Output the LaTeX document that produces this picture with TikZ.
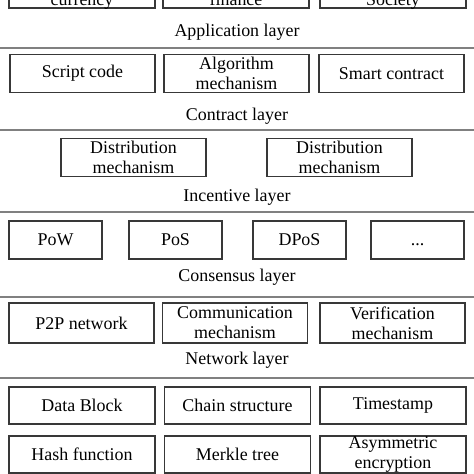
\documentclass[tikz,border=0pt]{standalone}
\usepackage{fontspec}
\setmainfont{Liberation Serif}

\tikzset{
  unit/.style = {
    draw = black!78, line width = 1.2bp,
    minimum width = 145bp, minimum height = 38bp,
    inner sep = 0pt, align = center
  },
  small unit/.style = {unit, minimum width = 93bp},
  layer/.style = {inner sep = 0pt},
  separator/.style = {draw = black!50, line width = 1.8bp}
}

\begin{document}
\begin{tikzpicture}[x = 1bp, y = -1bp,
    font = \fontsize{18}{20}\selectfont]
  \useasboundingbox (0,0) rectangle (474,474);
  \clip (0,0) rectangle (474,474);

  % Application layer
  \node[unit, minimum width = 146bp, minimum height = 39bp] (app-1) at (82,-11.5)  {};
  \node[unit, minimum width = 146bp, minimum height = 39bp] (app-2) at (236,-11.5) {};
  \node[unit, minimum width = 146bp, minimum height = 39bp] (app-3) at (393,-11.5) {};
  \node[anchor = base] (app-1-text) at (82,5.5)  {currency};
  \node[anchor = base] (app-2-text) at (236,5.5) {finance};
  \node[anchor = base] (app-3-text) at (393,5.5) {Society};
  \node[layer] (app) at (237,32) {Application layer};
  \draw[separator] (0,48) -- (474,48);

  % Contract layer
  \node[unit] (con-1) at (82.5,73.5)  {Script code};
  \node[unit] (con-2) at (236.5,73.5) {Algorithm\\mechanism};
  \node[unit] (con-3) at (391.5,73.5) {Smart contract};
  \node[layer] (con) at (237,116) {Contract layer};
  \draw[separator] (0,130) -- (474,130);

  % Incentive layer
  \node[unit] (inc-1) at (133.5,157.5) {Distribution\\mechanism};
  \node[unit] (inc-2) at (339.5,157.5) {Distribution\\mechanism};
  \node[layer] (inc) at (237,197) {Incentive layer};
  \draw[separator] (0,212) -- (474,212);

  % Consensus layer
  \node[small unit] (cns-1) at (55.5,240)  {PoW};
  \node[small unit] (cns-2) at (175.5,240) {PoS};
  \node[small unit] (cns-3) at (299.5,240) {DPoS};
  \node[small unit] (cns-4) at (417.5,240) {\vphantom{PoS}...};
  \node[layer] (cns) at (237,277) {Consensus layer};
  \draw[separator] (0,297) -- (474,297);

  % Network layer
  \node[unit, minimum height = 40bp] (net-1) at (81.5,323)  {P2P network};
  \node[unit, minimum height = 40bp] (net-2) at (235,323)   {Communication\\mechanism};
  \node[unit, minimum height = 40bp] (net-3) at (392.5,323) {Verification\\mechanism};
  \node[layer] (net) at (237,360) {Network layer};
  \draw[separator] (0,378) -- (474,378);

  % Data layer
  \node[unit, minimum width = 146bp, minimum height = 37bp] (dat-1) at (82,405.5)    {Data Block};
  \node[unit, minimum width = 146bp, minimum height = 37bp] (dat-2) at (237.5,405.5) {Chain structure};
  \node[unit, minimum width = 146bp, minimum height = 37bp] (dat-3) at (393,405.5)   {Timestamp};
  \node[unit, minimum width = 146bp, minimum height = 37bp] (dat-4) at (82,454.5)    {Hash function};
  \node[unit, minimum width = 146bp, minimum height = 37bp] (dat-5) at (237.5,454.5) {Merkle tree};
  \node[unit, minimum width = 146bp, minimum height = 37bp] (dat-6) at (393,454.5)   {Asymmetric\\encryption};
\end{tikzpicture}
\end{document}
